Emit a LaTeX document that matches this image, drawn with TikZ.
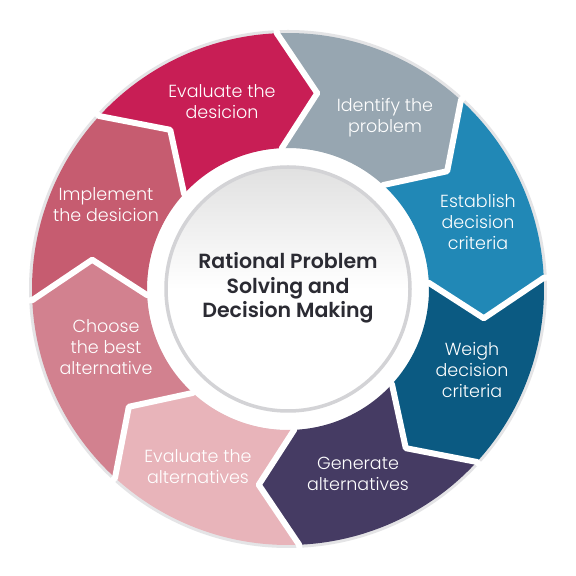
\documentclass[tikz,border=0pt]{standalone}
\usepackage{fontspec}
\setmainfont{Poppins}[UprightFont={* Light}, BoldFont={* SemiBold}]
\definecolor{cRed}{HTML}{C81E55}
\definecolor{cGrey}{HTML}{97A6B1}
\definecolor{cBlue}{HTML}{2188B6}
\definecolor{cDark}{HTML}{0B5A82}
\definecolor{cPurple}{HTML}{453B63}
\definecolor{cLight}{HTML}{E8B4BA}
\definecolor{cPink}{HTML}{D2818F}
\definecolor{cImpl}{HTML}{C65C70}
\definecolor{cTitle}{HTML}{2B2B33}
\definecolor{cRim}{HTML}{E4E4E6}
\definecolor{cRimIn}{HTML}{D3D3D6}
\begin{document}
\begin{tikzpicture}[x=1pt,y=1pt,
  lbl/.style={text=white, align=center, inner sep=0pt, font=\fontsize{17.5}{21}\selectfont},
  sep/.style={draw=white, line width=6pt, line join=round},
  title/.style={text=cTitle, align=center, inner sep=0pt, font=\bfseries\fontsize{20.5}{24.5}\selectfont}]
\useasboundingbox (0,0) rectangle (576,576);
\fill[white] (0,0) rectangle (576,576);
\begin{scope}[shift={(288,287)}]
  % outer grey rim
  \fill[cRim] (0,0) circle[radius=259];
  \fill[white] (0,0) circle[radius=141];
  % segments (tail angle / colour), clockwise flow
  \foreach \a/\col in {137.5/cRed, 92.5/cGrey, 47.5/cBlue, 2.5/cDark,
                       -42.5/cPurple, -87.5/cLight, -132.5/cPink, -177.5/cImpl}{
    \fill[\col] (\a:256) arc[start angle=\a, end angle=\a-45, radius=256]
      -- ({\a-56}:198) -- ({\a-45}:141)
      arc[start angle=\a-45, end angle=\a, radius=141]
      -- ({\a-11}:198) -- cycle;
  }
  % white separators
  \foreach \a in {137.5, 92.5, 47.5, 2.5, -42.5, -87.5, -132.5, -177.5}{
    \draw[sep] (\a:266) -- (\a:256) -- ({\a-11}:198) -- (\a:141) -- (\a:135);
  }
  % centre circle
  \shade[top color=black!12, bottom color=white, middle color=white]
    (0,0) circle[radius=122];
  \draw[cRimIn, line width=3.5pt] (0,0) circle[radius=122];
\end{scope}
% labels (pixel positions, y up)
\node[lbl] (evd) at (222,474) {Evaluate the\\desicion};
\node[lbl] (idp) at (385,458) {Identify the\\problem};
\node[lbl] (est) at (478,354) {Establish\\decision\\criteria};
\node[lbl] (wei) at (472,206) {Weigh\\decision\\criteria};
\node[lbl] (gen) at (358,102) {Generate\\alternatives};
\node[lbl] (eva) at (198,109) {Evaluate the\\alternatives};
\node[lbl] (cho) at (106,229) {Choose\\the best\\alternative};
\node[lbl] (imp) at (106,371) {Implement\\the desicion};
\node[title] (ttl) at (288,288) {Rational Problem\\Solving and\\Decision Making};
\end{tikzpicture}
\end{document}
